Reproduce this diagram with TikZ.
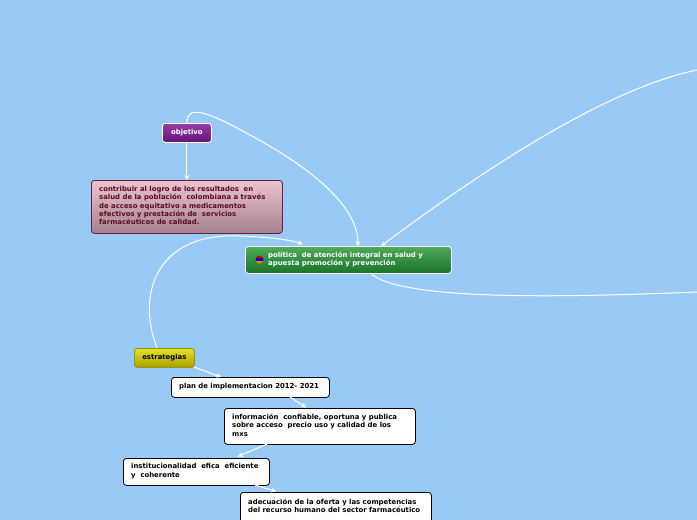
\documentclass[tikz,border=0pt]{standalone}
\usetikzlibrary{arrows.meta}
\usepackage{fontspec}
\setmainfont{DejaVu Sans}
\begin{document}
\begin{tikzpicture}[x=1pt,y=-1pt,
  box/.style={draw=#1!60!black,rounded corners=3pt,line width=0.8pt,anchor=north west,inner sep=0pt},
  txt/.style={anchor=west,align=left,inner sep=0pt,font=\fontsize{6.9}{8.4}\selectfont\bfseries},
  conn/.style={draw=white,line width=1pt,-{Stealth[length=5pt,width=5pt]}},
  plain/.style={draw=white,line width=1pt}]
\fill[fill={rgb,255:red,153;green,202;blue,245}] (0,0) rectangle (697,520);
\useasboundingbox (0,0) rectangle (697,520);
\node[box=violet,draw=white,top color={rgb,255:red,150;green,60;blue,170},bottom color={rgb,255:red,100;green,20;blue,120},text=white,minimum width=49pt,minimum height=19pt,font=\fontsize{6.9}{8.4}\selectfont\bfseries] (obj) at (162,123) {objetivo};
\node[box=purple,draw={rgb,255:red,110;green,30;blue,60},top color={rgb,255:red,235;green,195;blue,205},bottom color={rgb,255:red,165;green,130;blue,140},minimum width=191pt,minimum height=53pt] (con) at (91,180) {};
\node[txt,text={rgb,255:red,90;green,10;blue,40}] (contxt) at (99,205.5) {contribuir al logro de los resultados \ en\\salud de la población \ colombiana a través\\de acceso equitativo a medicamentos\\efectivos y prestación de \ servicios\\farmacéuticos de calidad.};
\node[box=green,draw=white,top color={rgb,255:red,80;green,170;blue,90},bottom color={rgb,255:red,25;green,115;blue,40},minimum width=206pt,minimum height=27pt] (cen) at (245,246) {};
\begin{scope}
\clip (259.5,259.5) circle (4);
\fill[red!80!black] (255,255) rectangle (264,258);
\fill[blue!70!black] (255,258) rectangle (264,260.5);
\fill[orange] (255,260.5) rectangle (264,264);
\end{scope}
\node[txt,text=white] (centxt) at (268,259.5) {política \ de atención integral en salud y\\apuesta promoción y prevención};
\node[box=yellow,draw={rgb,255:red,150;green,150;blue,20},top color={rgb,255:red,230;green,225;blue,40},bottom color={rgb,255:red,170;green,160;blue,0},minimum width=60pt,minimum height=19pt,font=\fontsize{6.9}{8.4}\selectfont\bfseries] (est) at (134,348) {estrategias};
\node[box=black,draw=black,fill=white,minimum width=158pt,minimum height=20pt] (plan) at (171,377) {};
\node[txt] (plantxt) at (179,387) {plan de implementacion 2012- 2021};
\node[box=black,draw=black,fill=white,minimum width=191pt,minimum height=36pt] (info) at (224,408) {};
\node[txt] (infotxt) at (232,425) {información \ confiable, oportuna y publica\\sobre acceso \ precio uso y calidad de los\\mxs};
\node[box=black,draw=black,fill=white,minimum width=146pt,minimum height=27pt] (inst) at (123,458) {};
\node[txt] (insttxt) at (131,471) {institucionalidad \ efica \ eficiente\\y \ coherente};
\node[box=black,draw=black,fill=white,minimum width=191pt,minimum height=30pt] (adec) at (240,492) {};
\node[txt] (adectxt) at (248,506) {adecuación de la oferta y las competencias\\del recurso humano del sector farmacéutico};
\coordinate (r1) at (697,70);
\coordinate (r2) at (697,292);
\draw[conn] (obj.north) .. controls (187,105) and (205,110) .. (250,135) .. controls (330,178) and (358,215) .. (358,246);
\draw[conn] (obj.south) -- (obj.south |- con.north);
\draw[conn] (r1) .. controls (600,90) and (470,180) .. (381,246);
\draw[plain] (370,273) .. controls (400,300) and (550,298) .. (r2);
\draw[conn] (157,348) .. controls (135,290) and (160,232) .. (240,236) .. controls (270,237) and (290,240) .. (303,244);
\draw[conn] (194,367) -- (221,377);
\draw[conn] (290,397) -- (306,407.5);
\draw[conn] (267,444) -- (238,456.5);
\draw[conn] (255,485) -- (276,491.5);
\end{tikzpicture}
\end{document}
